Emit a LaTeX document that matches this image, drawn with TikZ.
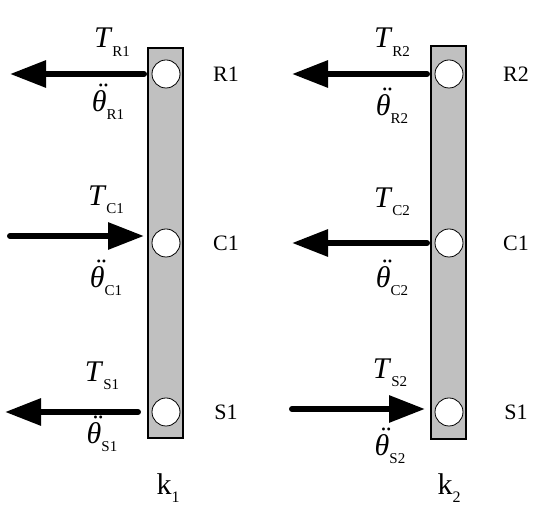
\documentclass[tikz,border=0pt]{standalone}
\usepackage{fontspec}
\setmainfont{Liberation Serif}
\usetikzlibrary{arrows.meta}
\newcommand{\lbsub}[2]{\textit{#1}\raisebox{-0.28em}{\fontsize{15}{15}\selectfont #2}}
\newcommand{\ddth}{\textit{\accent"A8 θ}}
\newcommand{\thsub}[1]{\ddth\raisebox{-0.28em}{\fontsize{15}{15}\selectfont #1}}
\tikzset{
  bar/.style={draw=black,line width=2pt,fill={rgb,255:red,192;green,192;blue,192}},
  hole/.style={circle,draw=black,line width=0.8pt,fill=white,minimum size=28pt,inner sep=0pt},
  force/.style={line width=6pt,line cap=round,-{Triangle[length=36pt,width=26pt]}},
  tl/.style={font=\fontsize{30}{30}\selectfont,inner sep=0pt},
  pl/.style={font=\fontsize{22}{22}\selectfont,inner sep=0pt},
}
\begin{document}
\begin{tikzpicture}[x=1pt,y=-1pt]
\useasboundingbox (0,0) rectangle (550,510);
% bars
\draw[bar] (148,48) rectangle (183,438);
\draw[bar] (431,46) rectangle (466,439);
% holes
\node[hole] (r1) at (166,74) {};
\node[hole] (c1) at (166,243) {};
\node[hole] (s1) at (166,412) {};
\node[hole] (r2) at (449,74) {};
\node[hole] (c2) at (449,243) {};
\node[hole] (s2) at (449,412) {};
% point labels
\node[pl] (lr1) at (226,74) {R1};
\node[pl] (lc1) at (226,243) {C1};
\node[pl] (ls1) at (226,412) {S1};
\node[pl] (lr2) at (516,74) {R2};
\node[pl] (lc2) at (516,243) {C1};
\node[pl] (ls2) at (516,412) {S1};
% arrow end coordinates
\coordinate (ar1) at (10,74);
\coordinate (ac1) at (10,236);
\coordinate (as1) at (5,412);
\coordinate (ar2) at (292,74);
\coordinate (ac2) at (292,243);
\coordinate (as2) at (292,409);
\coordinate (br1) at (144,74);
\coordinate (bc1) at (144,236);
\coordinate (bs1) at (138,412);
\coordinate (br2) at (427,74);
\coordinate (bc2) at (427,243);
\coordinate (bs2) at (425,409);
\draw[force] (br1) -- (ar1);
\draw[force] (ac1) -- (bc1);
\draw[force] (bs1) -- (as1);
\draw[force] (br2) -- (ar2);
\draw[force] (bc2) -- (ac2);
\draw[force] (as2) -- (bs2);
% torque labels
\node[tl] (tr1) at (112,42) {\lbsub{T}{R1}};
\node[tl] (thr1) at (108,102) {\thsub{R1}};
\node[tl] (tc1) at (106,200) {\lbsub{T}{C1}};
\node[tl] (thc1) at (106,278) {\thsub{C1}};
\node[tl] (ts1) at (102,376) {\lbsub{T}{S1}};
\node[tl] (ths1) at (102,434) {\thsub{S1}};
\node[tl] (tr2) at (392,42) {\lbsub{T}{R2}};
\node[tl] (thr2) at (392,106) {\thsub{R2}};
\node[tl] (tc2) at (392,202) {\lbsub{T}{C2}};
\node[tl] (thc2) at (392,278) {\thsub{C2}};
\node[tl] (ts2) at (390,373) {\lbsub{T}{S2}};
\node[tl] (ths2) at (390,446) {\thsub{S2}};
% member labels
\node[tl] (k1) at (168,488) {k\raisebox{-0.25em}{\fontsize{16}{16}\selectfont 1}};
\node[tl] (k2) at (449,488) {k\raisebox{-0.25em}{\fontsize{16}{16}\selectfont 2}};
\end{tikzpicture}
\end{document}
